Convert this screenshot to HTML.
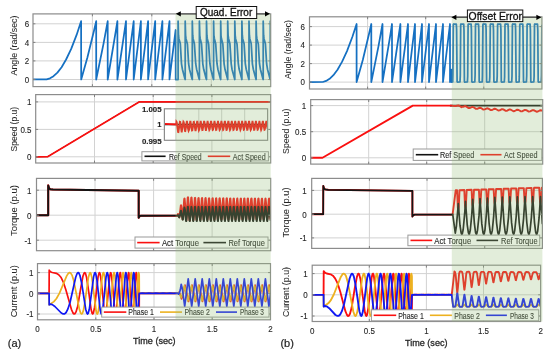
<!DOCTYPE html><html><head><meta charset="utf-8"><style>
html,body{margin:0;padding:0;background:#fff;}
svg{display:block;filter:blur(0.35px);}
text{font-family:"Liberation Sans",sans-serif;fill:#262626;stroke:#262626;stroke-width:0.12px;}
.tk{font-size:9.3px;}
.yl{font-size:8.6px;stroke-width:0.05px;}
.xl{font-size:9.8px;stroke-width:0.3px;}
.pl{font-size:11px;fill:#222;stroke-width:0.2px;}
.lg{font-size:9.6px;}
.tb{font-size:7.6px;font-weight:bold;fill:#222;}
.an{font-size:11px;fill:#111;stroke:#111;stroke-width:0.3px;}
</style></head><body><svg width="550" height="357" viewBox="0 0 550 357"><defs><clipPath id="cLa"><rect x="33.0" y="13.9" width="237.7" height="72.7"/></clipPath><clipPath id="cLs"><rect x="35.7" y="94.6" width="235.0" height="68.4"/></clipPath><clipPath id="cLt"><rect x="36.5" y="178.4" width="234.2" height="72.3"/></clipPath><clipPath id="cLc"><rect x="37.5" y="263.6" width="233.0" height="56.2"/></clipPath><clipPath id="cRa"><rect x="309.5" y="16.8" width="232.4" height="72.2"/></clipPath><clipPath id="cRs"><rect x="310.7" y="99.6" width="232.0" height="64.5"/></clipPath><clipPath id="cRt"><rect x="311.7" y="178.4" width="230.7" height="70.0"/></clipPath><clipPath id="cRc"><rect x="312.2" y="265.2" width="228.4" height="56.3"/></clipPath><clipPath id="cin"><rect x="164.4" y="108.8" width="103.2" height="31.5"/></clipPath></defs><rect width="550" height="357" fill="#fff"/>
<rect x="33.0" y="13.9" width="237.7" height="72.7" fill="#fff"/>
<line x1="92.4" y1="13.9" x2="92.4" y2="86.6" stroke="#d2d2d2" stroke-width="1"/>
<line x1="151.8" y1="13.9" x2="151.8" y2="86.6" stroke="#d2d2d2" stroke-width="1"/>
<line x1="211.3" y1="13.9" x2="211.3" y2="86.6" stroke="#d2d2d2" stroke-width="1"/>
<line x1="33.0" y1="79.5" x2="270.7" y2="79.5" stroke="#d2d2d2" stroke-width="1"/>
<line x1="33.0" y1="60.9" x2="270.7" y2="60.9" stroke="#d2d2d2" stroke-width="1"/>
<line x1="33.0" y1="42.4" x2="270.7" y2="42.4" stroke="#d2d2d2" stroke-width="1"/>
<line x1="33.0" y1="23.8" x2="270.7" y2="23.8" stroke="#d2d2d2" stroke-width="1"/>
<rect x="35.7" y="94.6" width="235.0" height="68.4" fill="#fff"/>
<line x1="94.5" y1="94.6" x2="94.5" y2="163.0" stroke="#d2d2d2" stroke-width="1"/>
<line x1="153.2" y1="94.6" x2="153.2" y2="163.0" stroke="#d2d2d2" stroke-width="1"/>
<line x1="211.9" y1="94.6" x2="211.9" y2="163.0" stroke="#d2d2d2" stroke-width="1"/>
<line x1="35.7" y1="156.8" x2="270.7" y2="156.8" stroke="#d2d2d2" stroke-width="1"/>
<line x1="35.7" y1="129.4" x2="270.7" y2="129.4" stroke="#d2d2d2" stroke-width="1"/>
<line x1="35.7" y1="101.9" x2="270.7" y2="101.9" stroke="#d2d2d2" stroke-width="1"/>
<rect x="36.5" y="178.4" width="234.2" height="72.3" fill="#fff"/>
<line x1="95.0" y1="178.4" x2="95.0" y2="250.7" stroke="#d2d2d2" stroke-width="1"/>
<line x1="153.6" y1="178.4" x2="153.6" y2="250.7" stroke="#d2d2d2" stroke-width="1"/>
<line x1="212.1" y1="178.4" x2="212.1" y2="250.7" stroke="#d2d2d2" stroke-width="1"/>
<line x1="36.5" y1="240.2" x2="270.7" y2="240.2" stroke="#d2d2d2" stroke-width="1"/>
<line x1="36.5" y1="215.2" x2="270.7" y2="215.2" stroke="#d2d2d2" stroke-width="1"/>
<line x1="36.5" y1="190.2" x2="270.7" y2="190.2" stroke="#d2d2d2" stroke-width="1"/>
<rect x="37.5" y="263.6" width="233.0" height="56.2" fill="#fff"/>
<line x1="95.8" y1="263.6" x2="95.8" y2="319.8" stroke="#d2d2d2" stroke-width="1"/>
<line x1="154.0" y1="263.6" x2="154.0" y2="319.8" stroke="#d2d2d2" stroke-width="1"/>
<line x1="212.2" y1="263.6" x2="212.2" y2="319.8" stroke="#d2d2d2" stroke-width="1"/>
<line x1="37.5" y1="314.0" x2="270.5" y2="314.0" stroke="#d2d2d2" stroke-width="1"/>
<line x1="37.5" y1="293.3" x2="270.5" y2="293.3" stroke="#d2d2d2" stroke-width="1"/>
<line x1="37.5" y1="272.6" x2="270.5" y2="272.6" stroke="#d2d2d2" stroke-width="1"/>
<rect x="309.5" y="16.8" width="232.4" height="72.2" fill="#fff"/>
<line x1="367.6" y1="16.8" x2="367.6" y2="89.0" stroke="#d2d2d2" stroke-width="1"/>
<line x1="425.7" y1="16.8" x2="425.7" y2="89.0" stroke="#d2d2d2" stroke-width="1"/>
<line x1="483.8" y1="16.8" x2="483.8" y2="89.0" stroke="#d2d2d2" stroke-width="1"/>
<line x1="309.5" y1="82.1" x2="541.9" y2="82.1" stroke="#d2d2d2" stroke-width="1"/>
<line x1="309.5" y1="63.6" x2="541.9" y2="63.6" stroke="#d2d2d2" stroke-width="1"/>
<line x1="309.5" y1="45.1" x2="541.9" y2="45.1" stroke="#d2d2d2" stroke-width="1"/>
<line x1="309.5" y1="26.6" x2="541.9" y2="26.6" stroke="#d2d2d2" stroke-width="1"/>
<rect x="310.7" y="99.6" width="232.0" height="64.5" fill="#fff"/>
<line x1="368.7" y1="99.6" x2="368.7" y2="164.1" stroke="#d2d2d2" stroke-width="1"/>
<line x1="426.7" y1="99.6" x2="426.7" y2="164.1" stroke="#d2d2d2" stroke-width="1"/>
<line x1="484.7" y1="99.6" x2="484.7" y2="164.1" stroke="#d2d2d2" stroke-width="1"/>
<line x1="310.7" y1="157.8" x2="542.7" y2="157.8" stroke="#d2d2d2" stroke-width="1"/>
<line x1="310.7" y1="131.7" x2="542.7" y2="131.7" stroke="#d2d2d2" stroke-width="1"/>
<line x1="310.7" y1="105.6" x2="542.7" y2="105.6" stroke="#d2d2d2" stroke-width="1"/>
<rect x="311.7" y="178.4" width="230.7" height="70.0" fill="#fff"/>
<line x1="369.4" y1="178.4" x2="369.4" y2="248.4" stroke="#d2d2d2" stroke-width="1"/>
<line x1="427.0" y1="178.4" x2="427.0" y2="248.4" stroke="#d2d2d2" stroke-width="1"/>
<line x1="484.7" y1="178.4" x2="484.7" y2="248.4" stroke="#d2d2d2" stroke-width="1"/>
<line x1="311.7" y1="237.9" x2="542.4" y2="237.9" stroke="#d2d2d2" stroke-width="1"/>
<line x1="311.7" y1="214.2" x2="542.4" y2="214.2" stroke="#d2d2d2" stroke-width="1"/>
<line x1="311.7" y1="190.4" x2="542.4" y2="190.4" stroke="#d2d2d2" stroke-width="1"/>
<rect x="312.2" y="265.2" width="228.4" height="56.3" fill="#fff"/>
<line x1="369.3" y1="265.2" x2="369.3" y2="321.5" stroke="#d2d2d2" stroke-width="1"/>
<line x1="426.4" y1="265.2" x2="426.4" y2="321.5" stroke="#d2d2d2" stroke-width="1"/>
<line x1="483.5" y1="265.2" x2="483.5" y2="321.5" stroke="#d2d2d2" stroke-width="1"/>
<line x1="312.2" y1="316.0" x2="540.6" y2="316.0" stroke="#d2d2d2" stroke-width="1"/>
<line x1="312.2" y1="294.8" x2="540.6" y2="294.8" stroke="#d2d2d2" stroke-width="1"/>
<line x1="312.2" y1="273.6" x2="540.6" y2="273.6" stroke="#d2d2d2" stroke-width="1"/>
<path d="M33 79.5L46.6 79.4L50 78.3L53.5 76.2L57.4 72.6L61.6 67.2L66.1 59.5L71.2 48.9L76.6 34.9L81.1 21.2L81.2 79.4L87.4 57.5L94.1 30.2L96.2 21.2L96.2 79.5L103.5 43.9L107.7 21.2L107.7 79.5L115.7 31.7L117.4 21.2L117.4 79.5L126 21.2L126 79.5L133.7 21.2L133.7 79.5L140.9 21.2L140.9 79.5L148.1 21.2L148.1 79.4L155.2 21.2L155.2 79.5L162.4 21.2L162.4 79.5L169.5 21.2L169.5 79.4L175.6 30L175.7 79.5L178.1 79.5L178.1 21.2L178.5 35.4L178.9 38.7L180.3 43.6L181.5 63.8L182.4 69.2L184.7 78.1L185.2 79.5L185.2 21.2L185.6 35.3L186 38.7L187.4 43.9L188.6 63.7L189.5 69.2L191.8 78.1L192.3 79.5L192.3 21.2L192.7 35.2L193.1 38.7L194.4 43.8L195.7 63.7L196.6 69.2L198.9 78.1L199.4 79.5L199.4 21.2L199.8 35.5L200.2 38.7L201.5 43.7L202.8 63.8L203.7 69.3L206 78.1L206.5 79.5L206.5 21.2L206.9 35.4L207.3 38.7L208.6 43.9L209.9 63.7L210.8 69.2L213.1 78.1L213.6 79.5L213.6 21.2L213.9 35.3L214.4 38.7L215.7 43.8L217 63.7L217.9 69.2L220.2 78.1L220.7 79.5L220.7 21.2L221 35.5L221.4 38.6L222.8 43.7L224.1 63.8L225 69.3L227.3 78.1L227.7 79.5L227.7 21.2L228.1 35.4L228.6 38.7L229.9 43.6L231.2 63.8L232 69.2L234.4 78.1L234.8 79.5L234.8 21.2L235.2 35.3L235.6 38.7L237 43.9L238.3 63.7L239.1 69.1L241.5 78.1L241.9 79.5L241.9 21.2L242.3 35.2L242.7 38.7L244.1 43.8L245.3 63.6L246.2 69.2L248.5 78.1L249 79.5L249 21.2L249.4 35.4L249.8 38.7L251.2 43.6L252.4 63.8L253.3 69.2L255.7 78.1L256.1 79.5L256.1 21.2L256.5 35.3L256.9 38.7L258.3 43.9L259.5 63.7L260.4 69.2L262.7 78.1L263.2 79.5L263.2 21.2L263.6 35.2L264 38.7L265.4 43.8L266.6 63.7L267.5 69.2L269.8 78.1L270.3 79.5L270.3 21.2L270.7 35.5L270.7 35.8" stroke="#1570c2" stroke-width="1.75" fill="none" stroke-linejoin="round" clip-path="url(#cLa)"/>
<path d="M309.5 82.1L322.8 82L326.1 80.9L329.6 78.8L333.4 75.2L337.5 69.7L342 61.9L347 51.1L352.4 36.8L356.6 24L356.6 82L362.8 60L369.4 32.3L371.3 24L371.3 82.1L378.5 46.1L382.5 24L382.5 82.1L390.5 33.9L392 24L392 82.1L400.4 24L400.4 82.1L408 24L408 82.1L415 24L415 82.1L422 24L422 82L429 24L429 82.1L436 24L436 82.1L443 24L443 82L450 24L450 82.1L451.5 69.7L451.6 82.1L452.7 81.9L452.9 74.3L453.3 24.7L453.6 24L456.3 24.1L456.6 29.3L457.1 81.5L457.4 82.1L460 82L460.3 75.4L460.7 24.6L461 24L463.7 24.1L464 30.2L464.4 81.4L464.7 82.1L467.4 82L467.7 76.3L468.1 24.7L468.4 24L471.1 24.1L471.4 29.4L471.8 81.5L472.1 82.1L474.8 82L475.1 75.3L475.5 24.6L475.8 24L478.5 24.1L478.8 30.3L479.2 81.4L479.5 82.1L482.2 82L482.4 76.2L482.9 24.7L483.2 24L485.8 24.1L486.1 29.4L486.6 81.5L486.9 82.1L489.5 82L489.8 77L490.3 24.6L490.6 24L493.2 24.1L493.5 30.4L493.9 81.4L494.2 82.1L496.9 82L497.2 76.1L497.6 24.7L497.9 24L500.6 24.1L500.9 29.5L501.3 81.5L501.6 82.1L504.3 82L504.6 77L505 24.6L505.3 24L508 24.1L508.3 30.5L508.7 81.4L509 82.1L511.7 82L512 76.1L512.4 24.7L512.7 24L515.4 24.1L515.6 29.6L516.1 81.3L516.4 82.1L519.1 82L519.3 76.9L519.8 24.6L520.1 24L522.8 24.1L523 30.6L523.5 81.4L523.8 82.1L526.4 82L526.7 76L527.1 24.7L527.4 24L530.1 24.1L530.4 29.7L530.8 81.3L531.1 82.1L533.8 82L534.1 76.8L534.5 24.6L534.8 24L537.5 24.1L537.8 30.7L538.2 81.5L538.5 82.1L541.2 82L541.5 75.9L541.9 24.7" stroke="#1570c2" stroke-width="1.75" fill="none" stroke-linejoin="round" clip-path="url(#cRa)"/>
<path d="M35.7 156.8L47.6 156.7L139.1 101.9L270.7 101.9" stroke="#111" stroke-width="1.0" fill="none" stroke-linejoin="round" clip-path="url(#cLs)"/>
<path d="M35.7 156.8L47.6 156.7L139.1 101.9L270.7 101.9" stroke="#fa1010" stroke-width="1.7" fill="none" stroke-linejoin="round" clip-path="url(#cLs)"/>
<path d="M449.9 105.6L542.7 105.6" stroke="#111" stroke-width="1.9" fill="none" stroke-linejoin="round" clip-path="url(#cRs)"/>
<path d="M310.7 157.8L322.5 157.7L412.8 105.6L452.4 105.6L452.7 105.8L455.8 106L458.4 105.4L460 106.2L461.5 107.2L461.6 106.8L463 106.8L465.2 106L466.5 106.6L468.7 108.1L470 108L472.3 106.9L473.6 107.3L476 108.9L477.3 108.8L479.7 107.7L481 108L483.4 109.6L484.7 109.4L487 108.3L488.4 108.6L490.8 110.1L492.1 110L494.5 108.7L495.8 109L498.3 110.5L499.6 110.4L502 109.1L503.3 109.4L505.8 110.9L507.1 110.7L509.6 109.4L510.9 109.7L513.4 111.2L514.7 111L517.2 109.7L518.6 110L521 111.4L522.4 111.2L524.9 109.9L526.3 110.2L528.8 111.6L530.1 111.4L532.6 110.1L534 110.3L536.5 111.7L537.9 111.5L540.4 110.2L541.8 110.5L542.7 111.0" stroke="#fa1010" stroke-width="1.9" fill="none" stroke-linejoin="round" clip-path="url(#cRs)"/>
<path d="M36.5 215.2L48.2 215.2L48.2 185.4L49.1 188.2L50.1 189.2L53 189.5L138.7 190.7L138.7 217.8L139.6 216.2L141 215.7L177.6 215.6L178 214.1L178.5 215.3L179.2 217.2L179.7 215.7L180.9 205.5L181.1 205.4L181.8 211L182.6 219.2L182.8 219.2L183.4 212.1L184.3 199L184.5 198.7L185.2 206.4L186.1 220.3L186.3 220.5L186.9 212L187.8 197.7L188 197.4L188.7 205.8L189.6 220.1L189.8 220.4L190.4 212.6L191.3 197.9L191.5 197.6L192.1 204.9L193.1 219.8L193.3 220.1L194 212L194.9 198.1L195.1 197.9L195.7 205.5L196.6 219.7L196.8 220L197.5 212.5L198.4 198.3L198.6 198L199.2 206L200.1 219.6L200.3 219.8L201 212L201.9 198.4L202.1 198.1L202.7 205.5L203.7 219.4L203.9 219.7L204.6 211.4L205.4 198.5L205.6 198.2L206.3 206L207.2 219.4L207.4 219.7L208 212.3L208.9 198.6L209.1 198.3L209.8 205.1L210.7 219.3L210.9 219.6L211.6 211.8L212.5 198.6L212.7 198.3L213.3 205.6L214.2 219.3L214.4 219.6L215.1 212.7L216 198.7L216.2 198.4L216.9 206.1L217.8 219.3L218 219.5L218.6 212.2L219.5 198.7L219.7 198.4L220.4 205.6L221.3 219.2L221.5 219.5L222.2 211.7L223.1 198.7L223.3 198.4L223.9 206.1L224.8 219.2L225 219.5L225.7 212.3L226.6 198.7L226.8 198.4L227.4 205.2L228.3 219.1L228.5 219.4L229.2 211.8L230.1 198.7L230.3 198.5L230.9 205.7L231.9 219.1L232.1 219.4L232.7 212.7L233.6 198.8L233.8 198.5L234.5 206.2L235.4 219.1L235.6 219.4L236.2 212.2L237.2 198.8L237.3 198.5L238 205.6L238.9 219.1L239.1 219.3L239.8 211.7L240.7 198.8L240.9 198.5L241.5 206.1L242.4 219.1L242.6 219.4L243.3 212.3L244.2 198.8L244.4 198.6L245.1 206.6L246 219.1L246.2 219.3L246.8 211.8L247.7 198.8L247.9 198.6L248.6 205.7L249.5 219L249.7 219.3L250.3 212.7L251.2 198.9L251.5 198.6L252.1 206.2L253 219.1L253.2 219.3L253.9 212.2L254.8 198.9L255 198.6L255.6 205.6L256.5 219L256.7 219.3L257.4 211.7L258.3 198.9L258.5 198.6L259.2 206.1L260.1 219L260.3 219.3L260.9 212.2L261.8 198.9L262 198.7L262.7 206.6L263.6 219L263.8 219.2L264.5 211.7L265.4 198.9L265.5 198.7L266.2 205.7L267.1 218.9L267.3 219.2L267.9 212.6L268.9 199L269.1 198.7L269.7 206.2L270.6 219L270.7 219.2" stroke="#fa1010" stroke-width="2.1" fill="none" stroke-linejoin="round" clip-path="url(#cLt)"/>
<path d="M36.5 215.2L48.2 215.2L48.2 185.4L49.1 188.2L50.1 189.2L53 189.5L138.7 190.7L138.7 217.8L139.6 216.2L141 215.7L177.6 215.6L178 215L178.8 216.7L179.3 217.4L179.9 215.7L180.9 210.7L181.1 210.8L182.6 219.7L182.9 219.6L183.9 210.6L184.4 207.4L184.9 209.2L186 221L186.3 221.1L186.9 215.6L187.8 206.9L188 206.8L188.7 213L189.6 221L189.8 221.1L190.5 215.3L191.3 206.9L191.5 206.8L192.2 212.3L193.1 221L193.3 221.1L194 214.9L194.9 206.9L195.1 206.8L195.8 212.7L196.6 221L196.8 221.1L197.5 215.6L198.4 206.9L198.6 206.8L199.3 213L200.2 221L200.4 221.1L201.1 215.2L201.9 206.9L202.1 206.8L202.8 212.4L203.7 221L203.9 221.1L204.6 214.9L205.4 206.9L205.7 206.8L206.4 213L207.2 221L207.4 221.1L208.1 215.3L209 206.9L209.2 206.8L209.8 212.3L210.7 221L210.9 221.1L211.7 214.9L212.5 206.9L212.7 206.8L213.4 212.7L214.3 221L214.5 221.1L215.1 215.6L216 206.9L216.2 206.8L217 213L217.8 221L218 221.1L218.7 215.2L219.5 206.9L219.7 206.8L220.4 212.4L221.3 221L221.5 221.1L222.2 214.9L223.1 206.9L223.3 206.8L224 213L224.8 221L225 221.1L225.7 215.3L226.6 206.9L226.8 206.8L227.5 212.3L228.3 221L228.6 221.1L229.3 214.9L230.1 206.9L230.3 206.8L231 212.7L231.9 221L232.1 221.1L232.8 215.6L233.6 206.9L233.9 206.8L234.6 213L235.4 221L235.6 221.1L236.3 215.2L237.2 206.9L237.4 206.8L238 212.4L238.9 221L239.1 221.1L239.9 214.9L240.7 206.9L240.9 206.8L241.6 213L242.5 221L242.7 221.1L243.4 215.3L244.2 206.9L244.4 206.8L245.1 212.3L246 221L246.2 221.1L246.9 214.9L247.7 206.9L247.9 206.8L248.6 212.7L249.5 221L249.7 221.1L250.4 215.6L251.3 206.9L251.5 206.8L252.2 213L253 221L253.2 221.1L253.9 215.2L254.8 206.9L255 206.8L255.7 212.4L256.6 221L256.8 221.1L257.5 214.9L258.3 206.9L258.5 206.8L259.2 213L260.1 221L260.3 221.1L261 215.3L261.8 206.9L262 206.8L262.7 212.3L263.6 221L263.8 221.1L264.5 214.9L265.4 206.9L265.6 206.8L266.3 212.7L267.1 221L267.3 221.1L268 215.6L268.9 206.9L269.1 206.8L269.8 213L270.7 221L270.7 221.1" stroke="#141414" stroke-width="1.9" fill="none" stroke-linejoin="round" clip-path="url(#cLt)"/>
<path d="M311.7 214.2L323.2 214.2L323.3 185.9L324.1 188.5L325.1 189.4L328.3 189.8L412.4 190.9L412.4 216.6L413.3 215.1L414.8 214.6L452.6 214.5L455.7 190.3L457.1 190.3L457.9 208.4L458.3 210.5L458.8 206.5L459.5 190.2L464.3 190L465 205.6L465.5 207.7L465.9 204.9L466.7 190L471.6 189.8L472.3 204.1L472.7 206L473.2 203.2L474 189.7L478.9 189.6L479.6 203.1L480.1 204.9L480.6 202L481.3 189.5L486.2 189.4L487 202.4L487.4 204.3L487.9 202.1L488.7 189.3L493.6 189.1L494.4 202.1L494.8 204L495.3 201.8L496.1 189L501.1 188.9L501.9 202L502.3 203.8L502.8 201.5L503.6 188.8L508.6 188.6L509.4 201.8L509.8 203.6L510.3 201.5L511.1 188.5L516.2 188.4L516.9 201.5L517.4 203.6L517.8 201.7L518.6 189L518.7 188.3L523.8 188.1L524.6 201.6L525 203.5L525.5 201.1L526.4 188.1L531.5 187.9L532.2 201.4L532.7 203.5L533.2 201.6L533.9 188.5L534.1 187.8L539.2 187.7L540 201.5L540.5 203.5L540.9 201.6L541.7 188.5L541.8 187.6L542.4 187.6" stroke="#fa1010" stroke-width="1.9" fill="none" stroke-linejoin="round" clip-path="url(#cRt)"/>
<path d="M311.7 214.2L323.2 214.2L323.3 185.9L324.1 188.5L325.1 189.4L328.3 189.8L412.4 190.9L412.4 216.6L413.3 215.1L414.8 214.6L452.6 214.5L452.7 214.2L455.3 233.2L456.4 226.3L458.2 205.1L458.3 203.6L460 225.5L461.2 233.1L461.8 234.3L462.3 233.9L463.2 229.5L464.7 213.2L465.5 201.3L467.2 224.6L468.4 232.8L469 234.3L469.4 234L470.3 230L471.8 214.4L472.7 199.4L474.4 223.7L475.6 232.6L476.3 234.3L476.7 234.1L477.5 230.4L479 215.9L480 198.5L481.8 223.9L483 232.7L483.6 234.3L484.1 234L485 229.8L486.4 213.8L487.4 198L489.1 223.3L490.3 232.6L491 234.3L491.4 234.1L492.3 230.4L493.7 215.8L494.8 197.3L496.6 223.1L497.8 232.5L498.4 234.3L498.9 234.1L499.7 230.5L501.1 215.9L502.3 197L504 222.8L505.2 232.4L505.9 234.3L506.3 234.1L507.1 230.9L508.5 217.3L509.8 196.8L511.6 222.9L512.8 232.5L513.5 234.3L513.9 234.1L514.7 230.6L516.2 216.5L517.4 196.9L519.2 222.7L520.4 232.3L521.1 234.3L521.5 234.1L522.3 231.1L523.6 218.3L525 196.7L526.8 222.5L528 232.3L528.7 234.3L529.2 234.1L530 230.9L531.4 217.4L532.7 196.7L534.5 222.6L535.7 232.3L536.4 234.3L536.9 234.1L537.7 231L539.1 217.7L540.5 196.6L542.3 222.9L542.4 224.1" stroke="#141414" stroke-width="1.7" fill="none" stroke-linejoin="round" clip-path="url(#cRt)"/>
<path d="M37.5 293.3L49.1 293.3L49.2 270.2L50.4 271.8L52.3 272.5L56.3 273.3L58.7 274.7L60.9 277.2L63.2 281.8L66 290.2L71.4 309.3L73 313L74.1 314L74.9 313.7L76 311.9L77.7 306.2L80.7 288.5L82.9 276.4L84.1 273.1L84.7 272.6L85.5 273.4L86.6 277.5L88.7 291.6L91.1 309.5L92.2 313.5L92.7 314L93.4 313L94.6 307.2L98.1 276.6L99.1 272.9L99.5 272.6L100.2 274.2L101.4 282.7L104.2 309.9L105.1 313.7L105.5 314L106.1 312.1L107.4 301.4L109.7 276.5L110.5 272.8L110.8 272.7L111.5 275.1L112.9 289.2L114.8 310.6L115.5 313.9L115.8 313.9L116.5 310.8L118.1 291.9L119.5 275.1L120.2 272.6L120.5 273L121.4 279.1L123.8 311.1L124.4 313.9L124.8 313.7L125.5 308.5L128 275.4L128.6 272.6L128.9 273.2L129.8 281.3L131.9 311.2L132.4 314L132.8 313.3L133.7 304.1L135.6 275.3L136.2 272.6L136.6 273.7L137.6 285.5L139.2 311.2L139.3 293.5L144.2 293.2L147.6 293.4L151.1 293.2L154.6 293.4L158.1 293.2L161.6 293.4L165.1 293.2L168.6 293.4L172.1 293.2L175.6 293.4L177.9 293.1L178 293.2L178.8 292.5L179.6 293.1L180.8 296L181.5 298.9L182.8 295.1L185 285.2L188.5 301.5L192 285.1L195.5 301.5L199 285.1L202.5 301.4L206 285.1L209.6 301.5L213 285.1L216.6 301.5L220.1 285.2L223.6 301.5L227.1 285.1L230.6 301.5L234.1 285.1L237.6 301.4L241.1 285.1L244.6 301.5L248.1 285.1L251.6 301.5L255.1 285.2L258.6 301.5L262.2 285.1L265.6 301.5L269.2 285.1L270.5 291.5" stroke="#fa1010" stroke-width="1.7" fill="none" stroke-linejoin="round" clip-path="url(#cLc)"/>
<path d="M37.5 293.3L49.1 293.3L49.2 304.8L53.9 301.6L56.5 298.5L59.5 293.1L66.7 275.9L68.4 273.2L69.6 272.6L70.6 273L72 275.1L73.7 280.6L76.6 295L79.4 309.4L80.7 313.2L81.5 314L82.3 313.5L83.4 310.6L85.1 300.8L88.4 277.5L89.6 273.2L90.2 272.6L90.8 273.3L91.9 277.9L94.2 296.1L96 310.6L96.9 313.7L97.4 314L98.1 312.4L99.4 304.1L102.2 276.8L103.1 272.9L103.6 272.6L104.2 274.5L105.5 284.7L107.9 310.1L108.7 313.8L109.1 313.9L109.8 311.6L111.2 298.3L113.1 276.2L113.9 272.7L114.2 272.7L114.9 275.7L116.4 293.5L118 311.2L118.6 314L119 313.7L119.8 308.9L122.4 275.5L123 272.6L123.4 272.9L124.2 278.6L126.6 311.1L127.2 314L127.5 313.7L128.3 307.8L130.6 275.3L131.2 272.6L131.6 273.4L132.5 282.9L134.4 311.1L134.9 314L135.3 313.4L136.2 304.5L138 275.3L138.6 272.6L139 273.7L139.2 275.4L139.3 293.2L142.9 293.4L146.4 293.2L149.9 293.4L153.5 293.2L157 293.4L160.5 293.2L164 293.4L167.5 293.2L171 293.4L174.5 293.2L177.9 293.4L178.5 293L179.3 293.4L180.5 296.1L181 297.6L182.2 295.1L184.4 285.8L187.9 300.9L191.5 285.7L195 300.8L198.5 285.7L202 300.8L205.5 285.7L209 300.9L212.5 285.8L216 300.9L219.5 285.8L223 300.9L226.5 285.7L230 300.8L233.5 285.7L237 300.8L240.5 285.7L244.1 300.9L247.6 285.8L251.1 300.9L254.6 285.8L258.1 300.9L261.6 285.7L265.1 300.8L268.6 285.7L270.5 294.0" stroke="#edb120" stroke-width="1.7" fill="none" stroke-linejoin="round" clip-path="url(#cLc)"/>
<path d="M37.5 293.3L49.1 293.3L49.2 304.8L50.5 304.2L52.3 304.6L54.9 306.5L61.3 313L63.2 313.9L64.6 313.8L66.1 312.5L67.8 309.2L70.1 302.2L75.7 277.3L77.1 273.5L78 272.6L78.8 272.9L79.9 275.3L81.6 282.7L85.7 309.2L86.9 313.3L87.5 314L88.2 313.3L89.3 309.3L91.3 294.6L93.6 276.9L94.6 273L95.1 272.6L95.8 273.8L97 280.3L100.2 310L101.1 313.7L101.6 314L102.3 312.3L103.5 302.9L106.1 276.7L106.9 272.9L107.3 272.6L108 274.6L109.3 286.1L111.4 310.2L112.2 313.8L112.5 313.9L113.2 311.4L114.6 296.4L116.4 275.8L117.1 272.7L117.4 272.7L118.1 276.3L120 301.1L121.2 312.6L121.7 314L122.2 312.8L123.2 302.3L125.2 275.7L125.8 272.6L126.2 273L127 279.1L129.3 311.2L129.9 314L130.3 313.4L131.1 304.9L133.1 275.5L133.7 272.6L134.1 273.4L135 283.8L136.8 311.2L137.4 314L137.8 312.9L138.8 300.4L139.3 293.3L142.2 293.2L145.4 293.4L148.8 293.2L152.3 293.4L155.8 293.2L159.3 293.4L162.8 293.2L166.3 293.4L169.8 293.2L173.3 293.4L176.8 293.2L177.9 293.4L178.6 294.1L179.2 293.5L180.3 289.8L181.2 284.3L182.4 289L184.7 306.5L188.2 278.9L191.7 306.4L195.2 278.8L198.7 306.5L202.2 278.8L205.7 306.5L209.3 278.9L212.8 306.5L216.3 278.9L219.8 306.5L223.3 278.9L226.8 306.4L230.3 278.8L233.8 306.5L237.3 278.8L240.8 306.5L244.3 278.9L247.8 306.5L251.3 278.9L254.8 306.5L258.3 278.9L261.9 306.4L265.4 278.8L268.9 306.5L270.5 293.6" stroke="#1018f4" stroke-width="1.7" fill="none" stroke-linejoin="round" clip-path="url(#cLc)"/>
<path d="M312.2 294.8L323.6 294.8L323.7 271.2L324.9 272.7L326.7 273.5L330.6 274.3L332.9 275.7L335.1 278.3L337.4 282.9L340.2 291.5L345.4 311.2L347 315L348 316L348.9 315.7L350 313.8L351.6 307.8L354.8 288L356.9 276.9L357.9 274L358.6 273.6L359.3 274.6L360.5 279.5L362.9 297.5L364.9 312.3L365.9 315.6L366.4 316L367.1 314.7L368.3 308.1L371.6 277.8L372.5 274L373 273.6L373.7 275.2L374.9 284.1L377.6 312L378.4 315.7L378.8 316L379.5 313.9L380.8 302.5L383 277.4L383.8 273.8L384.1 273.7L384.8 276.4L386.2 292.2L388 312.8L388.7 315.9L389 315.9L389.7 312.5L391.4 290.3L392.7 275.6L393.3 273.6L393.7 274.5L394.7 283.3L396.8 312.8L397.4 315.9L397.7 315.8L398.5 310.8L400.9 276.3L401.5 273.6L401.8 274.2L402.7 282.8L404.7 313.1L405.3 316L405.6 315.3L406.5 305.9L408.4 276.4L408.9 273.6L409.3 274.7L410.3 287.2L411.9 313.1L412 295L416.8 294.7L420.1 294.9L423.5 294.7L427 294.9L430.4 294.7L433.8 294.9L437.3 294.7L440.7 294.9L444.2 294.7L447.6 294.9L451 294.7L451.8 294.8L454.4 271.5L455 271.9L455.7 275L457.2 292.9L457.3 293.1L458 286.9L459.1 273.6L459.7 271.7L460.9 271.5L462 271.8L462.6 273.6L464.3 289.6L464.5 289.7L465.2 284.6L466.3 273.3L466.9 271.8L468.7 271.6L469.4 272L470.1 274.8L471.5 287L471.7 287.2L472.4 282.6L473.5 273.1L474.1 271.8L476.3 271.7L476.9 272.7L477.9 279.1L478.7 285.1L479 285.1L479.7 280.1L480.7 272.9L481.4 271.8L483.7 271.8L484.3 273L486 283.5L486.2 283.6L487 279.2L488 272.8L488.7 271.8L491 271.9L491.7 273.1L493.3 282.3L493.6 282.3L494.4 277.9L495.4 272.7L496.1 271.9L498.5 272L499.1 273.2L500.7 281.4L501 281.4L501.9 277.2L502.9 272.6L503.5 271.9L505.9 272L506.6 273.3L508.2 280.7L508.5 280.7L509.4 276.6L510.3 272.6L511 271.9L513.4 272.1L514.1 273.3L515.7 280.1L516 280.2L517 276L517.9 272.5L518.6 272L521 272.1L521.7 273.4L523.2 279.7L523.5 279.8L524.5 276L525.4 272.6L526.2 272L528.6 272.2L529.3 273.4L530.8 279.4L531.2 279.4L532.2 275.2L533.1 272.5L533.9 272.1L536.3 272.2L537 273.5L538.5 279.2L538.8 279.2L539.9 275.2L540.6 272.9" stroke="#fa1010" stroke-width="1.85" fill="none" stroke-linejoin="round" clip-path="url(#cRc)"/>
<path d="M312.2 294.8L323.6 294.8L323.7 306.6L328.3 303.3L330.9 300.1L333.8 294.5L340.8 276.9L342.5 274.2L343.7 273.6L344.7 274L346 276.1L347.7 281.9L350.6 297.1L353.3 311.5L354.6 315.3L355.4 316L356.1 315.5L357.2 312.3L359 301.9L362.1 278.5L363.3 274.2L363.9 273.6L364.5 274.4L365.6 279.5L368.3 303L369.8 313.7L370.6 315.9L371 315.9L371.8 313.5L373.2 302.2L375.7 277.9L376.5 273.9L377 273.6L377.6 275.5L378.9 286.2L381.2 312L382 315.8L382.4 315.9L383.1 313.4L384.5 299.2L386.3 277.1L387.1 273.7L387.4 273.7L388.1 276.9L389.7 296.4L391.1 313.4L391.8 316L392.1 315.6L393 309.4L395.4 276.7L396 273.7L396.3 273.8L397.1 278.5L399.6 313.2L400.2 316L400.5 315.4L401.4 307.4L403.4 276.5L404 273.6L404.4 274.2L405.2 282.5L407.2 313.2L407.7 316L408.1 315L409.1 302.8L410.8 276.2L411.3 273.6L411.7 274.9L411.9 276.4L412 294.7L415.5 294.9L419 294.7L422.4 294.9L425.8 294.7L429.3 294.9L432.7 294.7L436.1 294.9L439.6 294.7L443 294.9L446.4 294.7L449.9 294.9L451.7 294.7L453.1 306.7L455.4 306.5L457.2 304.6L458 305.1L459.2 306.5L462.1 306.6L463.1 306L464.3 304.6L465 305L466.4 306.5L469.2 306.6L470.2 306.1L471.5 304.6L472.2 305L473.6 306.5L476.5 306.6L477.5 306L478.8 304.6L479.5 305L480.8 306.5L483.8 306.6L484.8 306L486.1 304.6L486.8 305L488.1 306.5L491 306.7L492 306.1L493.4 304.6L494.1 305L495.5 306.5L498.5 306.6L499.5 306.1L500.8 304.6L501.5 304.9L502.9 306.5L505.8 306.6L506.9 306.1L508.2 304.6L508.9 304.9L510.3 306.5L513.3 306.7L514.3 306.1L515.7 304.6L516.5 305L517.9 306.5L520.8 306.7L521.9 306.1L523.3 304.6L524 305L525.4 306.5L528.5 306.6L529.5 306.1L530.9 304.6L531.6 304.9L533 306.5L536 306.7L537.1 306.2L538.6 304.6L539.3 304.9L540.6 306.4" stroke="#edb120" stroke-width="1.85" fill="none" stroke-linejoin="round" clip-path="url(#cRc)"/>
<path d="M312.2 294.8L323.6 294.8L323.7 306.6L324.9 306L326.6 306.3L329.2 308.2L335.5 315L337.4 315.9L338.8 315.8L340.2 314.5L341.9 311.2L344.1 304L349.6 278.5L351.1 274.5L351.9 273.6L352.7 274L353.8 276.4L355.4 284.1L359.4 311.2L360.6 315.3L361.2 316L361.9 315.3L363 311.1L365 295.3L367.2 277.8L368.2 274L368.7 273.6L369.4 274.9L370.6 282.1L373.7 311.9L374.6 315.7L375 316L375.7 314.2L376.9 304.5L379.4 277.6L380.3 273.8L380.6 273.6L381.3 275.8L382.6 288.2L384.7 312.3L385.4 315.9L385.8 315.9L386.5 312.9L388 295.3L389.6 276.5L390.2 273.7L390.5 273.8L391.3 277.9L394 313.1L394.7 316L395 315.7L395.8 310.1L398.2 276.4L398.8 273.6L399.2 274.2L400.1 281.9L402.2 313.1L402.8 316L403.1 315.3L404.1 305.8L406 276.4L406.5 273.6L406.9 274.4L407.8 285L409.6 313.3L410.1 316L410.5 314.8L411.6 301L412 294.8L414.8 294.7L417.9 294.9L421.3 294.7L424.7 294.9L428.1 294.7L431.6 294.9L435 294.7L438.4 294.9L441.9 294.7L445.3 294.9L448.7 294.7L451.7 295L451.8 294.8L453.2 306.9L455 306.7L455.6 305.2L457.2 293.5L457.4 293.4L458.1 298.4L459.2 305.7L459.8 306.8L462 306.8L462.6 305.6L464.3 294.8L464.5 294.7L465.4 300L466.3 305.9L467 306.8L469.2 306.7L469.9 305.5L471.5 295.8L471.7 295.8L472.6 300.7L473.5 306L474.2 306.8L476.5 306.7L477.1 305.5L478.7 296.6L479 296.6L479.8 300.9L480.8 306L481.4 306.8L483.7 306.7L484.4 305.5L486 297.2L486.3 297.2L487.2 301.7L488.1 306.1L488.8 306.8L491.1 306.7L491.8 305.5L493.3 297.7L493.6 297.7L494.5 302.1L495.5 306.2L496.2 306.8L498.5 306.7L499.2 305.4L500.7 298.1L501 298.1L502 302.4L502.9 306.3L503.6 306.9L505.9 306.7L506.6 305.4L508.2 298.4L508.5 298.3L509.4 302.2L510.3 306.2L511 306.8L513.4 306.7L514.1 305.5L515.7 298.6L516 298.6L516.9 302.7L517.9 306.3L518.6 306.9L521 306.7L521.7 305.5L523.2 298.8L523.5 298.8L524.5 302.6L525.4 306.3L526.2 306.9L528.6 306.7L529.3 305.5L530.8 298.9L531.2 298.9L532.1 302.6L533 306.2L533.8 306.8L536.2 306.7L536.9 305.5L538.5 299L538.8 299L539.8 302.7L540.6 306.0" stroke="#1018f4" stroke-width="1.85" fill="none" stroke-linejoin="round" clip-path="url(#cRc)"/>
<rect x="33.0" y="13.9" width="237.7" height="72.7" fill="none" stroke="#8c8c8c" stroke-width="1.2"/>
<path d="M33.0 79.5h2.4M270.7 79.5h-2.4M33.0 60.9h2.4M270.7 60.9h-2.4M33.0 42.4h2.4M270.7 42.4h-2.4M33.0 23.8h2.4M270.7 23.8h-2.4M92.4 86.6v-2.4M92.4 13.9v2.4M151.8 86.6v-2.4M151.8 13.9v2.4M211.3 86.6v-2.4M211.3 13.9v2.4" stroke="#808080" stroke-width="1" fill="none"/>
<text transform="translate(29.2 82.8) scale(0.86 1)" text-anchor="end" class="tk">0</text>
<text transform="translate(29.2 64.2) scale(0.86 1)" text-anchor="end" class="tk">2</text>
<text transform="translate(29.2 45.7) scale(0.86 1)" text-anchor="end" class="tk">4</text>
<text transform="translate(29.2 27.1) scale(0.86 1)" text-anchor="end" class="tk">6</text>
<text transform="translate(16.8 45.5) rotate(-90)" text-anchor="middle" class="yl" textLength="60.0" lengthAdjust="spacingAndGlyphs">Angle (rad/sec)</text>
<rect x="35.7" y="94.6" width="235.0" height="68.4" fill="none" stroke="#8c8c8c" stroke-width="1.2"/>
<path d="M35.7 156.8h2.4M270.7 156.8h-2.4M35.7 129.4h2.4M270.7 129.4h-2.4M35.7 101.9h2.4M270.7 101.9h-2.4M94.5 163.0v-2.4M94.5 94.6v2.4M153.2 163.0v-2.4M153.2 94.6v2.4M211.9 163.0v-2.4M211.9 94.6v2.4" stroke="#808080" stroke-width="1" fill="none"/>
<text transform="translate(31.5 160.1) scale(0.86 1)" text-anchor="end" class="tk">0</text>
<text transform="translate(31.5 132.7) scale(0.86 1)" text-anchor="end" class="tk">0.5</text>
<text transform="translate(31.5 105.2) scale(0.86 1)" text-anchor="end" class="tk">1</text>
<text transform="translate(17.0 129.2) rotate(-90)" text-anchor="middle" class="yl" textLength="44.6" lengthAdjust="spacingAndGlyphs">Speed (p.u)</text>
<rect x="36.5" y="178.4" width="234.2" height="72.3" fill="none" stroke="#8c8c8c" stroke-width="1.2"/>
<path d="M36.5 240.2h2.4M270.7 240.2h-2.4M36.5 215.2h2.4M270.7 215.2h-2.4M36.5 190.2h2.4M270.7 190.2h-2.4M95.0 250.7v-2.4M95.0 178.4v2.4M153.6 250.7v-2.4M153.6 178.4v2.4M212.1 250.7v-2.4M212.1 178.4v2.4" stroke="#808080" stroke-width="1" fill="none"/>
<text transform="translate(31.5 243.5) scale(0.86 1)" text-anchor="end" class="tk">-1</text>
<text transform="translate(31.5 218.5) scale(0.86 1)" text-anchor="end" class="tk">0</text>
<text transform="translate(31.5 193.5) scale(0.86 1)" text-anchor="end" class="tk">1</text>
<text transform="translate(17.2 210.6) rotate(-90)" text-anchor="middle" class="yl" textLength="51.0" lengthAdjust="spacingAndGlyphs">Torque (p.u)</text>
<rect x="37.5" y="263.6" width="233.0" height="56.2" fill="none" stroke="#8c8c8c" stroke-width="1.2"/>
<path d="M37.5 314.0h2.4M270.5 314.0h-2.4M37.5 293.3h2.4M270.5 293.3h-2.4M37.5 272.6h2.4M270.5 272.6h-2.4M95.8 319.8v-2.4M95.8 263.6v2.4M154.0 319.8v-2.4M154.0 263.6v2.4M212.2 319.8v-2.4M212.2 263.6v2.4" stroke="#808080" stroke-width="1" fill="none"/>
<text transform="translate(33.5 317.3) scale(0.86 1)" text-anchor="end" class="tk">-1</text>
<text transform="translate(33.5 296.6) scale(0.86 1)" text-anchor="end" class="tk">0</text>
<text transform="translate(33.5 275.9) scale(0.86 1)" text-anchor="end" class="tk">1</text>
<text transform="translate(17.2 291.3) rotate(-90)" text-anchor="middle" class="yl" textLength="52.0" lengthAdjust="spacingAndGlyphs">Current (p.u)</text>
<rect x="309.5" y="16.8" width="232.4" height="72.2" fill="none" stroke="#8c8c8c" stroke-width="1.2"/>
<path d="M309.5 82.1h2.4M541.9 82.1h-2.4M309.5 63.6h2.4M541.9 63.6h-2.4M309.5 45.1h2.4M541.9 45.1h-2.4M309.5 26.6h2.4M541.9 26.6h-2.4M367.6 89.0v-2.4M367.6 16.8v2.4M425.7 89.0v-2.4M425.7 16.8v2.4M483.8 89.0v-2.4M483.8 16.8v2.4" stroke="#808080" stroke-width="1" fill="none"/>
<text transform="translate(305.0 85.4) scale(0.86 1)" text-anchor="end" class="tk">0</text>
<text transform="translate(305.0 66.9) scale(0.86 1)" text-anchor="end" class="tk">2</text>
<text transform="translate(305.0 48.4) scale(0.86 1)" text-anchor="end" class="tk">4</text>
<text transform="translate(305.0 29.9) scale(0.86 1)" text-anchor="end" class="tk">6</text>
<text transform="translate(291.0 49.5) rotate(-90)" text-anchor="middle" class="yl" textLength="59.0" lengthAdjust="spacingAndGlyphs">Angle (rad/sec)</text>
<rect x="310.7" y="99.6" width="232.0" height="64.5" fill="none" stroke="#8c8c8c" stroke-width="1.2"/>
<path d="M310.7 157.8h2.4M542.7 157.8h-2.4M310.7 131.7h2.4M542.7 131.7h-2.4M310.7 105.6h2.4M542.7 105.6h-2.4M368.7 164.1v-2.4M368.7 99.6v2.4M426.7 164.1v-2.4M426.7 99.6v2.4M484.7 164.1v-2.4M484.7 99.6v2.4" stroke="#808080" stroke-width="1" fill="none"/>
<text transform="translate(306.2 161.1) scale(0.86 1)" text-anchor="end" class="tk">0</text>
<text transform="translate(306.2 135.0) scale(0.86 1)" text-anchor="end" class="tk">0.5</text>
<text transform="translate(306.2 108.9) scale(0.86 1)" text-anchor="end" class="tk">1</text>
<text transform="translate(289.0 131.2) rotate(-90)" text-anchor="middle" class="yl" textLength="45.4" lengthAdjust="spacingAndGlyphs">Speed (p.u)</text>
<rect x="311.7" y="178.4" width="230.7" height="70.0" fill="none" stroke="#8c8c8c" stroke-width="1.2"/>
<path d="M311.7 237.9h2.4M542.4 237.9h-2.4M311.7 214.2h2.4M542.4 214.2h-2.4M311.7 190.4h2.4M542.4 190.4h-2.4M369.4 248.4v-2.4M369.4 178.4v2.4M427.0 248.4v-2.4M427.0 178.4v2.4M484.7 248.4v-2.4M484.7 178.4v2.4" stroke="#808080" stroke-width="1" fill="none"/>
<text transform="translate(306.8 241.2) scale(0.86 1)" text-anchor="end" class="tk">-1</text>
<text transform="translate(306.8 217.5) scale(0.86 1)" text-anchor="end" class="tk">0</text>
<text transform="translate(306.8 193.7) scale(0.86 1)" text-anchor="end" class="tk">1</text>
<text transform="translate(288.5 212.4) rotate(-90)" text-anchor="middle" class="yl" textLength="50.0" lengthAdjust="spacingAndGlyphs">Torque (p.u)</text>
<rect x="312.2" y="265.2" width="228.4" height="56.3" fill="none" stroke="#8c8c8c" stroke-width="1.2"/>
<path d="M312.2 316.0h2.4M540.6 316.0h-2.4M312.2 294.8h2.4M540.6 294.8h-2.4M312.2 273.6h2.4M540.6 273.6h-2.4M369.3 321.5v-2.4M369.3 265.2v2.4M426.4 321.5v-2.4M426.4 265.2v2.4M483.5 321.5v-2.4M483.5 265.2v2.4" stroke="#808080" stroke-width="1" fill="none"/>
<text transform="translate(307.6 319.3) scale(0.86 1)" text-anchor="end" class="tk">-1</text>
<text transform="translate(307.6 298.1) scale(0.86 1)" text-anchor="end" class="tk">0</text>
<text transform="translate(307.6 276.9) scale(0.86 1)" text-anchor="end" class="tk">1</text>
<text transform="translate(289.0 292.0) rotate(-90)" text-anchor="middle" class="yl" textLength="50.0" lengthAdjust="spacingAndGlyphs">Current (p.u)</text>
<text transform="translate(37.5 332.0) scale(0.86 1)" text-anchor="middle" class="tk">0</text>
<text transform="translate(95.8 332.0) scale(0.86 1)" text-anchor="middle" class="tk">0.5</text>
<text transform="translate(154.0 332.0) scale(0.86 1)" text-anchor="middle" class="tk">1</text>
<text transform="translate(212.2 332.0) scale(0.86 1)" text-anchor="middle" class="tk">1.5</text>
<text transform="translate(270.5 332.0) scale(0.86 1)" text-anchor="middle" class="tk">2</text>
<text transform="translate(312.2 333.6) scale(0.86 1)" text-anchor="middle" class="tk">0</text>
<text transform="translate(369.3 333.6) scale(0.86 1)" text-anchor="middle" class="tk">0.5</text>
<text transform="translate(426.4 333.6) scale(0.86 1)" text-anchor="middle" class="tk">1</text>
<text transform="translate(483.5 333.6) scale(0.86 1)" text-anchor="middle" class="tk">1.5</text>
<text transform="translate(540.6 333.6) scale(0.86 1)" text-anchor="middle" class="tk">2</text>
<text x="133.1" y="344" class="xl" textLength="42.5" lengthAdjust="spacingAndGlyphs">Time (sec)</text>
<text x="405" y="345.5" class="xl" textLength="42.5" lengthAdjust="spacingAndGlyphs">Time (sec)</text>
<text x="7.8" y="347" class="pl">(a)</text>
<text x="280.4" y="347" class="pl">(b)</text>
<rect x="164.4" y="108.8" width="103.2" height="31.5" fill="#fff"/>
<line x1="175.9" y1="108.8" x2="175.9" y2="140.3" stroke="#d2d2d2"/>
<line x1="198.8" y1="108.8" x2="198.8" y2="140.3" stroke="#d2d2d2"/>
<line x1="221.7" y1="108.8" x2="221.7" y2="140.3" stroke="#d2d2d2"/>
<line x1="244.7" y1="108.8" x2="244.7" y2="140.3" stroke="#d2d2d2"/>
<line x1="164.4" y1="124.5" x2="267.6" y2="124.5" stroke="#d2d2d2"/>
<path d="M164.4 124.5L267.6 124.5" stroke="#111" stroke-width="1.5" fill="none"/>
<path d="M164.4 123.9L176.3 124.5L176.5 121.8L176.7 122.1L178.1 132L178.4 132.1L179.2 126.7L179.9 121.8L180.2 121.9L181.6 131.5L181.8 131.5L182.7 125.4L183.4 121.8L183.7 122.2L185 131L185.3 131.1L186.1 126.2L186.8 121.8L187 121.8L188 128.4L188.6 130.8L189 130L190.2 121.8L190.5 121.8L191.3 127.1L192 130.5L192.3 130.4L193.7 121.9L193.9 121.8L194.7 126.3L195.4 130.3L195.7 130.3L197.1 121.8L197.4 121.8L198.4 127.7L198.9 130.3L199.3 129.5L200.6 121.8L200.8 121.8L201.7 126.8L202.3 130.1L202.6 130L204 121.8L204.3 121.8L205.1 126.2L205.8 130L206 130L207.5 121.8L207.7 121.8L208.7 127.6L209.3 130L209.7 129.3L210.9 121.8L211.2 121.8L212 126.7L212.7 130L213 129.8L214.4 121.8L214.6 121.8L215.4 126.1L216.1 129.9L216.4 129.8L217.9 121.8L218.1 121.8L219.1 127.5L219.6 129.9L220 129.3L221.3 121.8L221.5 121.8L222.4 126.7L223.1 129.9L223.3 129.7L224.7 121.8L225 121.8L225.8 126.1L226.5 129.9L226.8 129.8L228.2 121.8L228.5 121.8L229.4 127.5L230 129.9L230.4 129.2L231.7 121.8L231.9 121.8L232.8 126.6L233.4 129.9L233.7 129.7L235.1 121.8L235.3 121.8L236.1 126.1L236.8 129.8L237.1 129.7L238.6 121.8L238.8 121.8L239.8 127.5L240.4 129.9L240.7 129.2L242 121.8L242.2 121.8L243.1 126.6L243.8 129.8L244 129.7L245.4 121.8L245.7 121.8L246.5 126L247.2 129.8L247.5 129.7L248.9 121.8L249.2 121.8L250.1 127.5L250.7 129.9L251.1 129.2L252.4 121.8L252.6 121.8L253.5 126.6L254.1 129.8L254.4 129.7L255.8 121.8L256 121.8L256.8 126L257.6 129.8L257.8 129.7L259.3 121.8L259.5 121.8L260.5 127.5L261.1 129.9L261.4 129.2L262.7 121.8L263 121.8L263.8 126.6L264.5 129.8L264.7 129.7L266.2 121.8L266.4 121.8L267.2 126L267.6 128.8" stroke="#fa1010" stroke-width="1.9" fill="none" clip-path="url(#cin)"/>
<rect x="164.4" y="108.8" width="103.2" height="31.5" fill="none" stroke="#8c8c8c" stroke-width="1.2"/>
<text x="161.6" y="111.6" text-anchor="end" class="tb" textLength="19.7" lengthAdjust="spacingAndGlyphs">1.005</text>
<text x="161.6" y="127.4" text-anchor="end" class="tb">1</text>
<text x="161.6" y="144.4" text-anchor="end" class="tb" textLength="19.7" lengthAdjust="spacingAndGlyphs">0.995</text>
<rect x="141.9" y="151.7" width="126.5" height="9.2" fill="#fff" stroke="#9a9a9a" stroke-width="1"/>
<line x1="144.5" y1="156.3" x2="165.6" y2="156.3" stroke="#111" stroke-width="1.6"/>
<text x="169.0" y="159.6" class="lg" textLength="32.7" lengthAdjust="spacingAndGlyphs">Ref Speed</text>
<line x1="207.8" y1="156.3" x2="230.2" y2="156.3" stroke="#fa1010" stroke-width="1.6"/>
<text x="232.8" y="159.6" class="lg" textLength="33.0" lengthAdjust="spacingAndGlyphs">Act Speed</text>
<rect x="413.2" y="149.0" width="128.6" height="11.4" fill="#fff" stroke="#9a9a9a" stroke-width="1"/>
<line x1="415.8" y1="154.7" x2="438.2" y2="154.7" stroke="#111" stroke-width="1.6"/>
<text x="440.0" y="158.0" class="lg" textLength="34.3" lengthAdjust="spacingAndGlyphs">Ref Speed</text>
<line x1="480.4" y1="154.7" x2="501.5" y2="154.7" stroke="#fa1010" stroke-width="1.6"/>
<text x="504.1" y="158.0" class="lg" textLength="33.5" lengthAdjust="spacingAndGlyphs">Act Speed</text>
<rect x="135.0" y="237.0" width="133.0" height="11.1" fill="#fff" stroke="#9a9a9a" stroke-width="1"/>
<line x1="137.2" y1="242.6" x2="159.6" y2="242.6" stroke="#fa1010" stroke-width="1.6"/>
<text x="161.9" y="245.9" class="lg" textLength="37.1" lengthAdjust="spacingAndGlyphs">Act Torque</text>
<line x1="203.4" y1="242.6" x2="226.0" y2="242.6" stroke="#1a1a1a" stroke-width="1.6"/>
<text x="228.4" y="245.9" class="lg" textLength="36.4" lengthAdjust="spacingAndGlyphs">Ref Torque</text>
<rect x="407.9" y="235.1" width="131.8" height="10.6" fill="#fff" stroke="#9a9a9a" stroke-width="1"/>
<line x1="410.5" y1="240.4" x2="432.2" y2="240.4" stroke="#fa1010" stroke-width="1.6"/>
<text x="434.3" y="243.7" class="lg" textLength="36.9" lengthAdjust="spacingAndGlyphs">Act Torque</text>
<line x1="476.5" y1="240.4" x2="498.1" y2="240.4" stroke="#1a1a1a" stroke-width="1.6"/>
<text x="501.0" y="243.7" class="lg" textLength="36.6" lengthAdjust="spacingAndGlyphs">Ref Torque</text>
<rect x="101.7" y="307.1" width="167.3" height="10.0" fill="#fff" stroke="#9a9a9a" stroke-width="1"/>
<line x1="103.8" y1="312.1" x2="126.3" y2="312.1" stroke="#fa1010" stroke-width="1.6"/>
<text x="128.3" y="315.4" class="lg" textLength="25.6" lengthAdjust="spacingAndGlyphs">Phase 1</text>
<line x1="160.0" y1="312.1" x2="182.0" y2="312.1" stroke="#edb120" stroke-width="1.6"/>
<text x="184.4" y="315.4" class="lg" textLength="25.6" lengthAdjust="spacingAndGlyphs">Phase 2</text>
<line x1="216.0" y1="312.1" x2="237.0" y2="312.1" stroke="#1018f4" stroke-width="1.6"/>
<text x="240.0" y="315.4" class="lg" textLength="24.0" lengthAdjust="spacingAndGlyphs">Phase 3</text>
<rect x="371.4" y="309.8" width="167.3" height="11.0" fill="#fff" stroke="#9a9a9a" stroke-width="1"/>
<line x1="373.7" y1="315.3" x2="396.2" y2="315.3" stroke="#fa1010" stroke-width="1.6"/>
<text x="398.2" y="318.6" class="lg" textLength="25.6" lengthAdjust="spacingAndGlyphs">Phase 1</text>
<line x1="429.9" y1="315.3" x2="451.9" y2="315.3" stroke="#edb120" stroke-width="1.6"/>
<text x="454.3" y="318.6" class="lg" textLength="25.6" lengthAdjust="spacingAndGlyphs">Phase 2</text>
<line x1="485.9" y1="315.3" x2="506.9" y2="315.3" stroke="#1018f4" stroke-width="1.6"/>
<text x="509.9" y="318.6" class="lg" textLength="24.0" lengthAdjust="spacingAndGlyphs">Phase 3</text>
<rect x="175.5" y="13.9" width="95.2" height="305.9" fill="rgba(151,191,123,0.28)"/>
<rect x="451.8" y="16.8" width="90.6" height="304.7" fill="rgba(151,191,123,0.28)"/>
<line x1="179.8" y1="13.8" x2="266.0" y2="13.8" stroke="#555" stroke-width="1.2"/>
<path d="M175.8 13.8l5 -2.6v5.2z" fill="#000"/>
<path d="M270.0 13.8l-5 -2.6v5.2z" fill="#000"/>
<rect x="196.2" y="6.5" width="60.5" height="12.0" fill="#fff" stroke="#111" stroke-width="1"/>
<text x="199.9" y="16.4" class="an" style="font-size:10.2px" textLength="52.4" lengthAdjust="spacingAndGlyphs">Quad. Error</text>
<line x1="455.4" y1="17.3" x2="537.4" y2="17.3" stroke="#555" stroke-width="1.2"/>
<path d="M451.4 17.3l5 -2.6v5.2z" fill="#000"/>
<path d="M541.4 17.3l-5 -2.6v5.2z" fill="#000"/>
<rect x="467.4" y="10.0" width="55.4" height="11.6" fill="#fff" stroke="#111" stroke-width="1"/>
<text x="468.6" y="19.6" class="an" style="font-size:10.8px" textLength="53.4" lengthAdjust="spacingAndGlyphs">Offset Error</text></svg></body></html>
